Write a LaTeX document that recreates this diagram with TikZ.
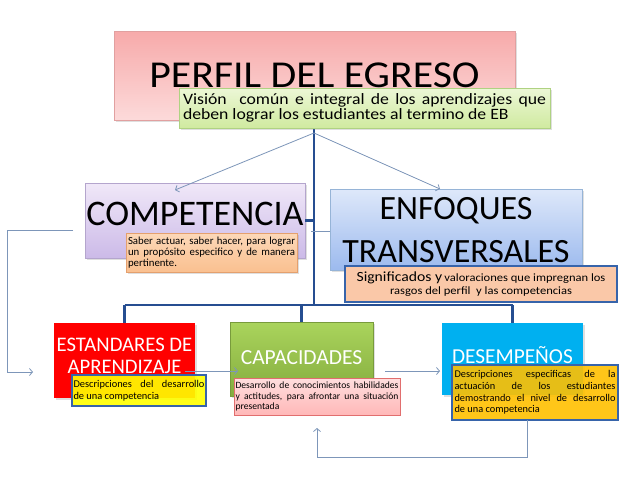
\documentclass[tikz,border=0pt]{standalone}
\usepackage{fontspec}
\setmainfont{Carlito}
\newfontfamily\wide{Carlito}[FakeStretch=1.12]
\usetikzlibrary{arrows.meta,shadows,calc}
\definecolor{trunkc}{RGB}{38,78,145}
\definecolor{thinc}{RGB}{125,150,185}
\definecolor{bdblue}{RGB}{55,100,170}
\tikzset{
  box/.style={draw, rectangle, inner sep=0pt, outer sep=0pt, align=center,
    drop shadow={shadow xshift=2pt, shadow yshift=-2pt, opacity=0.25}},
  note/.style={draw, rectangle, inner sep=0pt, outer sep=0pt, align=center},
  trunk/.style={draw=trunkc, line width=2.2pt},
  thin/.style={draw=thinc, line width=0.8pt},
  arr/.style={thin, -{Straight Barb[length=3pt,width=7pt]}},
}
\begin{document}
\begin{tikzpicture}[x=1pt,y=-1pt]
\useasboundingbox (0,0) rectangle (640,480);
\fill[white] (0,0) rectangle (640,480);

% named coordinates for free ends
\coordinate (trunkx) at (314,133);
\coordinate (bus) at (314,305);

% trunk line (behind boxes)
\draw[trunk] (trunkx |- 0,128) -- (bus);

% PERFIL
\node[box, draw={rgb,255:red,225;green,160;blue,160}, top color={rgb,255:red,247;green,170;blue,170}, bottom color={rgb,255:red,252;green,218;blue,218},
  minimum width=401pt, minimum height=89pt, font=\fontsize{38}{44}\selectfont] (perfil) at (314.5,75.5) {\raisebox{-1pt}{\scalebox{1.1}[1]{PERFIL DEL EGRESO}}};
\node[box, draw={rgb,255:red,175;green,210;blue,130}, top color={rgb,255:red,236;green,247;blue,214}, bottom color={rgb,255:red,208;green,234;blue,160},
  minimum width=371pt, minimum height=40pt] (vision) at (364.5,108)
  {\parbox{363pt}{\wide\fontsize{15.8}{15.2}\selectfont Visión\ \ común e integral de los aprendizajes que\linebreak deben lograr los estudiantes al termino de EB}};

% COMPETENCIA
\node[box, draw={rgb,255:red,180;green,165;blue,205}, top color={rgb,255:red,240;green,232;blue,248}, bottom color={rgb,255:red,204;green,186;blue,232},
  minimum width=220pt, minimum height=75pt, font=\fontsize{36}{40}\selectfont] (comp) at (195,220.5) {\raisebox{12.5pt}{COMPETENCIA}};
\node[box, draw={rgb,255:red,228;green,160;blue,110}, top color={rgb,255:red,252;green,216;blue,184}, bottom color={rgb,255:red,250;green,192;blue,144},
  minimum width=171pt, minimum height=39pt] (saber) at (211.5,252.5)
  {\parbox{167pt}{\fontsize{10.8}{11.3}\selectfont Saber actuar, saber hacer, para lograr\linebreak un propósito especifico y de manera\linebreak pertinente.}};
\draw[trunk] (comp.east) -- (comp.east -| trunkx);

% ENFOQUES
\node[box, draw={rgb,255:red,150;green,180;blue,215}, top color={rgb,255:red,222;green,232;blue,250}, bottom color={rgb,255:red,156;green,186;blue,238},
  minimum width=252pt, minimum height=81pt, font=\fontsize{34}{43}\selectfont] (enf) at (456,229.5) {\parbox{250pt}{\centering ENFOQUES\\TRANSVERSALES\par\vspace{-2pt}}};
\node[note, draw=bdblue, line width=1.3pt, fill={rgb,255:red,250;green,200;blue,168},
  minimum width=272pt, minimum height=36pt] (sig) at (481,284)
  {{\wide\fontsize{14}{15}\selectfont Significados y} {\wide\fontsize{11.2}{15}\selectfont valoraciones que impregnan los}\\[1pt]{\wide\fontsize{11.2}{15}\selectfont rasgos del perfil\ \ y las competencias}};

% ESTANDARES
\node[box, draw=none, fill={rgb,255:red,255;green,0;blue,0}, text=white,
  minimum width=141pt, minimum height=75pt, font=\fontsize{20.7}{22}\selectfont] (est) at (124.5,360.5) {\parbox{141pt}{\centering ESTANDARES DE\\APRENDIZAJE\par\vspace{10pt}}};
% CAPACIDADES
\node[box, draw={rgb,255:red,120;green,155;blue,60}, top color={rgb,255:red,170;green,212;blue,92}, bottom color={rgb,255:red,132;green,172;blue,62}, text=white,
  minimum width=143pt, minimum height=74pt, font=\fontsize{21.5}{24}\selectfont] (cap) at (301.5,359) {\raisebox{3pt}{CAPACIDADES}};
% DESEMPENOS
\node[box, draw=none, fill={rgb,255:red,0;green,176;blue,240}, text=white,
  minimum width=141pt, minimum height=72pt, font=\fontsize{21.3}{24}\selectfont] (des) at (512.5,359) {\raisebox{8pt}{DESEMPEÑOS}};

% bus lines
\draw[trunk] (est.north |- bus) -- (des.north |- bus);
\draw[trunk] (est.north |- bus) -- (est.north);
\draw[trunk] (cap.north |- bus) -- (cap.north);
\draw[trunk] (des.north |- bus) -- (des.north);

% notes under bottom boxes
\node[note, draw=bdblue, line width=1.3pt, fill={rgb,255:red,255;green,255;blue,0}, fill opacity=0.9, text opacity=1,
  minimum width=134pt, minimum height=31pt] (estd) at (139,390.5)
  {\parbox{131pt}{\fontsize{10.4}{11.5}\selectfont Descripciones del desarrollo\linebreak de una competencia}};
\node[note, draw={rgb,255:red,225;green,110;blue,110}, line width=0.8pt, top color={rgb,255:red,255;green,222;blue,222}, bottom color={rgb,255:red,255;green,184;blue,184},
  minimum width=166pt, minimum height=37pt] (capd) at (317,396.5)
  {\parbox{163pt}{\hyphenpenalty=10000\fontsize{9.6}{10.5}\selectfont Desarrollo de conocimientos habilidades\linebreak y actitudes, para afrontar una situación\linebreak presentada}};
\node[note, draw=bdblue, line width=1.3pt, fill={rgb,255:red,255;green,192;blue,0}, fill opacity=0.9, text opacity=1,
  minimum width=166pt, minimum height=55pt] (desd) at (535,392.5)
  {\parbox{161pt}{\fontsize{10.35}{11.7}\selectfont Descripciones especificas de la\linebreak actuación de los estudiantes\linebreak demostrando el nivel de desarrollo\linebreak de una competencia}};

% thin connectors
\draw[arr] (trunkx) -- ($(comp.north)+(-20,7)$);
\draw[arr] (trunkx) -- ($(enf.north)+(-16,0)$);
\draw[thin] (enf.west) ++(0,1.5) -- ++(-19,0);
\coordinate (lstart) at ($(comp.west)+(-12,9.5)$);
\coordinate (lend) at ($(est.west)+(-21,11.5)$);
\draw[arr] (lstart) -- (7,230) |- (lend);
\draw[arr] ($(est.east)+(-10,10.5)$) -- ($(cap.west)+(8,12)$);
\draw[arr] ($(cap.east)+(12,12)$) -- ($(des.west)+(-2,12)$);
\coordinate (loopc) at (317,457);
\draw[arr] ($(desd.south)+(-8,0)$) |- (loopc) -- ($(capd.south)+(0,13)$);
\end{tikzpicture}
\end{document}
